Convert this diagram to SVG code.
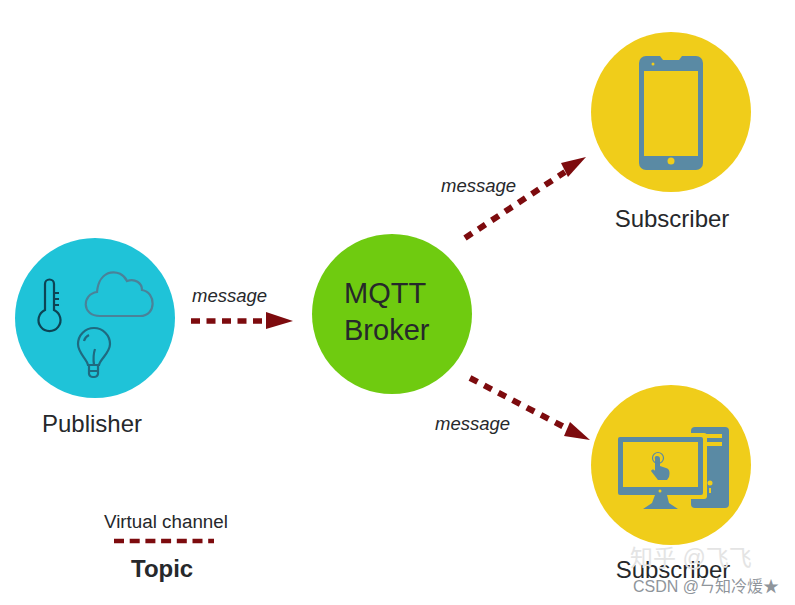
<svg xmlns="http://www.w3.org/2000/svg" width="795" height="605" viewBox="0 0 795 605">
<defs>
<style>
text{font-family:"Liberation Sans",Arial,sans-serif;fill:#26282b}
.lbl{font-size:24px}
.big{font-size:29px}
.msg{font-size:18.5px;font-style:italic}
.dash{stroke:#7d0b0e;stroke-width:5.5;stroke-dasharray:9 6.5;fill:none}
.diag{stroke-width:6;stroke-dasharray:8.5 7.5}
.head{fill:#7d0b0e}
.dev{fill:#5a8aa4}
.ico{fill:none;stroke:#1f6a80;stroke-width:2.2}
.yel{fill:#f0cd1a}
.cjk{font-family:"Liberation Sans","Noto Sans CJK SC",sans-serif}
</style>
</defs>
<rect width="795" height="605" fill="#fff"/>
<g id="connectors">
<path class="dash" d="M191 321H268"/>
<polygon class="head" points="266,312 293,321 266,329"/>
<path class="dash diag" d="M465 238L565 172"/>
<polygon class="head" points="561,163 586,157 568,177"/>
<path class="dash diag" d="M470 378L568 429"/>
<polygon class="head" points="570,422 590,440 564,436"/>
</g>
<g id="publisher">
<circle cx="95" cy="318" r="80" fill="#1fc3d8"/>
<path class="ico" style="stroke:#0d4455" d="M45 284a4.500 4.500 0 0 1 9 0v26a11 11 0 1 1-9 0zM54 293h5M54 299h5M54 305h5"/>
<path class="ico" style="stroke:#4a8299" d="M100 316c-19 0-18-22-3-24 2-24 24-24 30-11 8-3 15 2 15 9 14 2 15 26-2 26z"/>
<path class="ico" d="M88 365c-1-6-10-12-10-21a16 16 0 0 1 32 0c0 9-10 15-11 21zM94 365c-1-7 0-13 1-16M89 365v9a4 4 0 0 0 4 3h1a4 4 0 0 0 4-3v-9M89 371h9M84 341a9 9 0 0 1 5-6"/>
<text class="lbl" x="92" y="432" text-anchor="middle">Publisher</text>
</g>
<g id="broker">
<circle cx="392" cy="314" r="80" fill="#6fcb10"/>
<text class="big" x="344" y="303">MQTT</text>
<text class="big" x="344" y="340">Broker</text>
</g>
<g id="subscriber-phone">
<circle cx="671" cy="112" r="80" fill="#f0cd1a"/>
<rect x="639" y="56" width="64" height="114" rx="7" class="dev"/>
<rect x="644" y="71" width="54" height="85" class="yel"/>
<path d="M660 56h22l-3 4h-16z" class="yel"/>
<circle cx="653" cy="64" r="1.500" class="yel"/>
<circle cx="671" cy="161" r="3.500" class="yel"/>
<text class="lbl" x="672" y="227" text-anchor="middle">Subscriber</text>
</g>
<g id="subscriber-desktop">
<circle cx="671" cy="465" r="80" fill="#f0cd1a"/>
<rect x="691" y="427" width="38" height="81" rx="4" class="dev"/>
<path d="M705 434h17v4h-17zM705 442h17v4h-17z" class="yel"/>
<circle cx="710" cy="483" r="2.500" class="yel"/>
<rect x="709" y="488" width="2" height="5" class="yel"/>
<rect x="614" y="433" width="93" height="66" rx="3" fill="#f0cd1a"/>
<rect x="618" y="437" width="85" height="58" rx="2" class="dev"/>
<rect x="623" y="442" width="75" height="45" class="yel"/>
<circle cx="660" cy="491" r="1.500" class="yel"/>
<path d="M655 495h12l2 8 9 6h-35l9-6z" class="dev"/>
<path class="dev" d="M657 456a3 3 0 0 1 3 3v7l6 2c4 1 4 5 3 9l-2 3h-9l-7-9c1-2 3-2 4 0v-12a2 2 0 0 1 2-3z"/>
<circle cx="658" cy="458" r="5.500" fill="none" stroke="#5a8aa4" stroke-width="1.200"/>
<text class="lbl" x="673" y="578" text-anchor="middle">Subscriber</text>
</g>
<g id="message-labels">
<text class="msg" x="192" y="302">message</text>
<text class="msg" x="441" y="192">message</text>
<text class="msg" x="435" y="430">message</text>
</g>
<g id="legend">
<text x="104" y="528" style="font-size:18.800px">Virtual channel</text>
<path d="M114 541H214" stroke="#7d0b0e" stroke-width="4.500" stroke-dasharray="10 5.700" fill="none"/>
<text class="lbl" x="131" y="577" style="font-weight:bold">Topic</text>
</g>
<g id="watermark">
<text class="cjk" x="630" y="566" style="font-size:23px;fill:#e4e4e4">知乎 @飞飞</text>
<text class="cjk" x="633" y="592" style="font-size:16px;fill:#8f959b">CSDN @ㄣ知冷煖★</text>
</g>
</svg>
